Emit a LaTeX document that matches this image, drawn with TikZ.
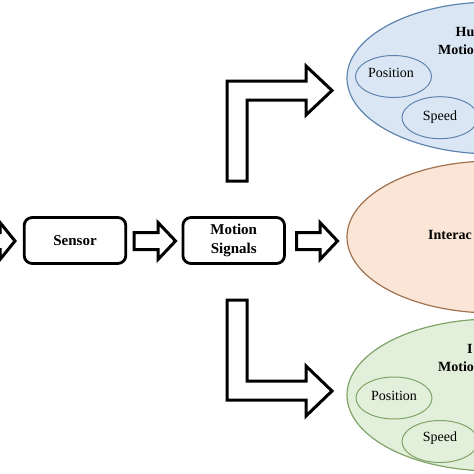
\documentclass[tikz,border=0pt]{standalone}
\usepackage{fontspec}
\setmainfont{Liberation Serif}
\usetikzlibrary{shapes.geometric}
\definecolor{bluefill}{HTML}{DAE6F3}
\definecolor{blueline}{HTML}{5F84AE}
\definecolor{orfill}{HTML}{FBE5D6}
\definecolor{orline}{HTML}{A0714F}
\definecolor{grfill}{HTML}{E2EFDA}
\definecolor{grline}{HTML}{80A468}
\begin{document}
\begin{tikzpicture}[x=1pt,y=-1pt,
  blockarrow/.style={draw=black, line width=3pt, fill=white, line join=miter},
  box/.style={draw=black, line width=2.8pt, rounded corners=8pt, fill=white,
    minimum width=101.6pt, minimum height=46pt, inner sep=0pt, align=center,
    font=\fontsize{15}{19}\selectfont\bfseries},
  bigell/.style={ellipse, line width=1.2pt, minimum width=292pt, minimum height=152pt, inner sep=0pt},
  smallell/.style={ellipse, line width=1pt, minimum width=76pt, minimum height=42pt, inner sep=0pt},
  title/.style={anchor=base west, inner sep=0pt, font=\fontsize{14}{17}\selectfont\bfseries},
  itemtxt/.style={inner sep=0pt, font=\fontsize{14}{17}\selectfont}]
\useasboundingbox (0,0) rectangle (474,474);
\clip (0,0) rectangle (474,474);

% big ellipses
\node[bigell, draw=blueline, fill=bluefill] (human) at (493,78) {};
\node[bigell, draw=orline, fill=orfill] (inter) at (493,237) {};
\node[bigell, draw=grline, fill=grfill] (imu) at (493,395) {};

% inner ellipses
\node[smallell, draw=blueline, fill=bluefill] (pos1) at (393.5,76.5) {};
\node[smallell, draw=blueline, fill=bluefill] (spd1) at (440,117.7) {};
\node[smallell, draw=grline, fill=grfill] (pos2) at (394,398) {};
\node[smallell, draw=grline, fill=grfill] (spd2) at (440,441.5) {};
\node[itemtxt] (pos1t) at (391,73) {Position};
\node[itemtxt] (spd1t) at (440,117) {Speed};
\node[itemtxt] (pos2t) at (394,396) {Position};
\node[itemtxt] (spd2t) at (440,438) {Speed};

% titles (as far as the picture shows them)
\node[title] (h1) at (455.5,36.3) {Hu};
\node[title] (h2) at (438,54.5) {Motio};
\node[title] (i1) at (428,239.5) {Interac};
\node[title] (m1) at (467,353.5) {I};
\node[title] (m2) at (438,371) {Motio};

% boxes
\node[box] (sensor) at (75,240.5) {Sensor};
\node[box] (signals) at (233.7,240.5) {Motion\\Signals};

% straight block arrows
\draw[blockarrow] (-30,232.5) -- (0,232.5) -- (0,222.5) -- (15,241) -- (0,259.5) -- (0,249.5) -- (-30,249.5) -- cycle;
\draw[blockarrow] (134,232.5) -- (158,232.5) -- (158,222.5) -- (175.5,241) -- (158,259.5) -- (158,249.5) -- (134,249.5) -- cycle;
\draw[blockarrow] (296.5,232.5) -- (320,232.5) -- (320,222.5) -- (337.5,241) -- (320,259.5) -- (320,249.5) -- (296.5,249.5) -- cycle;

% bent block arrows
\draw[blockarrow] (227,181) -- (227,81) -- (306,81) -- (306,66) -- (332,90.5) -- (306,115) -- (306,100) -- (247,100) -- (247,181) -- cycle;
\draw[blockarrow] (227,300) -- (227,400) -- (306,400) -- (306,416) -- (332,391) -- (306,366) -- (306,381) -- (247,381) -- (247,300) -- cycle;
\end{tikzpicture}
\end{document}
